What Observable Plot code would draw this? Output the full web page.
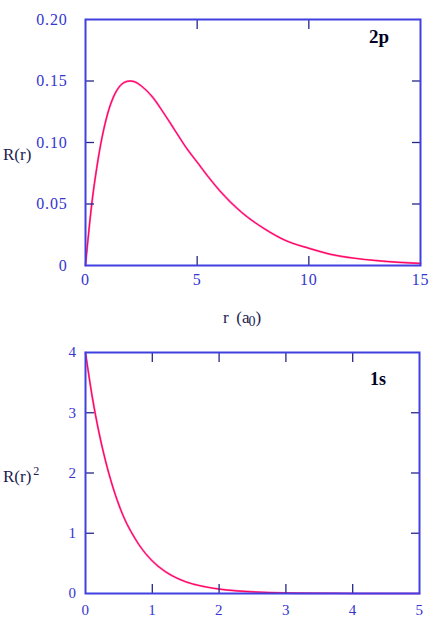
<!DOCTYPE html>
<html>
<head>
<meta charset="utf-8">
<script src="https://cdn.jsdelivr.net/npm/d3@7"></script>
<script src="https://cdn.jsdelivr.net/npm/@observablehq/plot@0.6"></script>
<style>
  html, body { margin: 0; padding: 0; background: #fff; }
  #wrap { position: relative; width: 431px; height: 622px; overflow: hidden; font-family: "Liberation Serif", "Times New Roman", "DejaVu Serif", serif; }
  #wrap svg { position: absolute; left: 0; }
  .lab { position: absolute; line-height: 1; white-space: nowrap; color: #1c1c50; font-size: 17px; }
  .ttl { position: absolute; line-height: 1; white-space: nowrap; color: #000022; font-weight: bold; font-size: 19px; }
</style>
</head>
<body>
<div id="wrap">
  <div class="lab" style="left:3px; top:146px;">R(r)</div>
  <div class="lab" style="left:223px; top:309px;">r&nbsp;&thinsp;(a<span style="font-size:14px; position:relative; top:3px; margin-left:-1px;">0</span>)</div>
  <div class="lab" style="left:3px; top:468px;">R(r)<span style="font-size:12px; position:relative; top:-7px; margin-left:2px;">2</span></div>
  <div class="ttl" style="left:369px; top:27px;">2p</div>
  <div class="ttl" style="left:370px; top:370px; font-size:18px;">1s</div>
</div>
<script>
// --- 2p radial function R(r) ---
const r2p = [0, 0.1, 0.2, 0.3, 0.5, 0.75, 1, 1.25, 1.5, 1.75, 2, 2.25, 2.5, 3, 3.5, 4, 4.5, 5, 5.5, 6, 7, 8, 9, 10, 11, 12, 13, 14, 15];
const R2p = [0, 0.019, 0.037, 0.053, 0.079, 0.105, 0.124, 0.137, 0.145, 0.149, 0.150, 0.149, 0.146, 0.137, 0.124, 0.110, 0.096, 0.084, 0.072, 0.061, 0.043, 0.030, 0.020, 0.014, 0.009, 0.006, 0.004, 0.0026, 0.0017];

// --- 1s R(r)^2 ---
const r1s = [0, 0.1, 0.2, 0.3, 0.4, 0.5, 0.6, 0.7, 0.8, 1, 1.2, 1.4, 1.6, 1.8, 2, 2.25, 2.5, 3, 3.5, 4, 4.5, 5];
const R1s2 = [4, 3.27, 2.68, 2.20, 1.80, 1.47, 1.20, 0.99, 0.81, 0.54, 0.36, 0.24, 0.16, 0.11, 0.073, 0.044, 0.027, 0.010, 0.004, 0.0013, 0.0005, 0.0002];

// --- tick values ---
const topXLabels = [0, 5, 10, 15];
const topYLabels = [0, 0.05, 0.10, 0.15, 0.20];
const topXInner = [5, 10];
const topYInner = [0.05, 0.10, 0.15];
const botXLabels = [0, 1, 2, 3, 4, 5];
const botYLabels = [0, 1, 2, 3, 4];
const botXInner = [1, 2, 3, 4];
const botYInner = [1, 2, 3];

const data2p = r2p.map((r, i) => ({r, v: R2p[i]}));
const data1s = r1s.map((r, i) => ({r, v: R1s2[i]}));

const frameColor = "#4040e0";
const labelColor = "#3535d0";
const tickColor = "#26268a";
const fontStack = "'Liberation Serif', 'Times New Roman', 'DejaVu Serif', serif";

function innerTicks(xt, yt) {
  return [
    Plot.axisX(xt, {anchor: "bottom", tickSize: -9, fill: "none", stroke: tickColor, strokeWidth: 1.3, label: null}),
    Plot.axisX(xt, {anchor: "top", tickSize: -9, fill: "none", stroke: tickColor, strokeWidth: 1.3, label: null}),
    Plot.axisY(yt, {anchor: "left", tickSize: -9, fill: "none", stroke: tickColor, strokeWidth: 1.3, label: null}),
    Plot.axisY(yt, {anchor: "right", tickSize: -9, fill: "none", stroke: tickColor, strokeWidth: 1.3, label: null})
  ];
}

function curve(data) {
  return [
    Plot.line(data, {x: "r", y: "v", stroke: "#ff5cc0", strokeWidth: 2, curve: "monotone-x"}),
    Plot.line(data, {x: "r", y: "v", stroke: "#ff0040", strokeWidth: 1, curve: "monotone-x"})
  ];
}

const topPlot = Plot.plot({
  width: 431, height: 340,
  marginLeft: 85, marginRight: 11, marginTop: 19, marginBottom: 75,
  style: {fontFamily: fontStack, fontSize: "16px", background: "transparent", overflow: "visible", letterSpacing: "0.8px"},
  x: {domain: [0, 15]},
  y: {domain: [0, 0.2]},
  marks: [
    ...curve(data2p),
    ...innerTicks(topXInner, topYInner),
    Plot.frame({stroke: frameColor, strokeWidth: 2}),
    Plot.axisX(topXLabels, {anchor: "bottom", tickSize: 0, tickPadding: 8, fill: labelColor, tickFormat: d => String(d), label: null}),
    Plot.axisY(topYLabels, {anchor: "left", tickSize: 0, tickPadding: 18, fill: labelColor, tickFormat: d => d === 0 ? "0" : d.toFixed(2), label: null})
  ]
});
topPlot.style.top = "0px";

const botPlot = Plot.plot({
  width: 431, height: 282,
  marginLeft: 85, marginRight: 12, marginTop: 12, marginBottom: 29,
  style: {fontFamily: fontStack, fontSize: "15px", background: "transparent", overflow: "visible", letterSpacing: "0.5px"},
  x: {domain: [0, 5]},
  y: {domain: [0, 4]},
  marks: [
    ...curve(data1s),
    ...innerTicks(botXInner, botYInner),
    Plot.frame({stroke: frameColor, strokeWidth: 2}),
    Plot.axisX(botXLabels, {anchor: "bottom", tickSize: 0, tickPadding: 11, fill: labelColor, tickFormat: d => String(d), label: null}),
    Plot.axisY(botYLabels, {anchor: "left", tickSize: 0, tickPadding: 9, fill: labelColor, tickFormat: d => String(d), label: null})
  ]
});
botPlot.style.top = "340px";

const wrap = document.getElementById("wrap");
wrap.insertBefore(botPlot, wrap.firstChild);
wrap.insertBefore(topPlot, wrap.firstChild);
</script>
</body>
</html>
